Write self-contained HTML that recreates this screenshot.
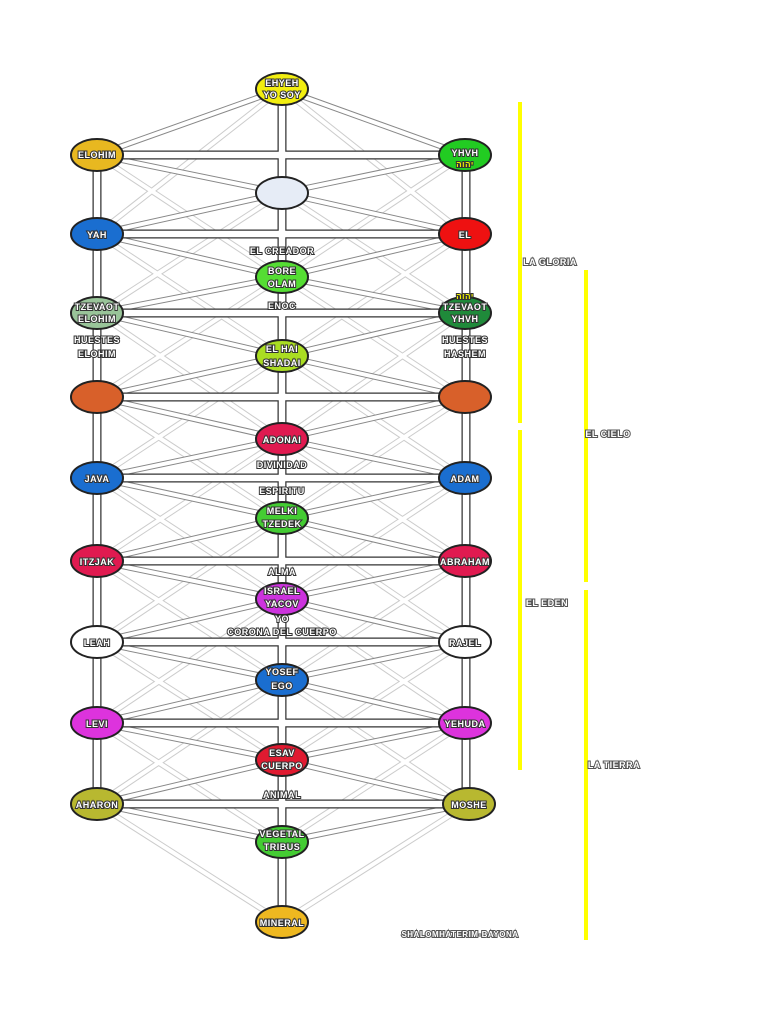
<!DOCTYPE html>
<html><head><meta charset="utf-8"><style>
html,body{margin:0;padding:0;background:#fff;width:768px;height:1024px;overflow:hidden}
svg{display:block}
text{font-family:"Liberation Sans",sans-serif;font-weight:bold;font-size:9px;fill:#fff;stroke:#333;stroke-width:2px;paint-order:stroke;text-anchor:middle;letter-spacing:0.5px}
.lbl{fill:#fff;stroke:#555}
</style></head><body>
<svg width="768" height="1024" viewBox="0 0 768 1024">
<defs>
<g id="far">
<line x1="97" y1="155" x2="282" y2="277"/><line x1="465" y1="155" x2="282" y2="277"/>
<line x1="97" y1="234" x2="282" y2="356"/><line x1="465" y1="234" x2="282" y2="356"/>
<line x1="97" y1="234" x2="282" y2="89"/><line x1="465" y1="234" x2="282" y2="89"/>
<line x1="97" y1="313" x2="282" y2="439"/><line x1="465" y1="313" x2="282" y2="439"/>
<line x1="97" y1="313" x2="282" y2="193"/><line x1="465" y1="313" x2="282" y2="193"/>
<line x1="97" y1="397" x2="282" y2="518"/><line x1="465" y1="397" x2="282" y2="518"/>
<line x1="97" y1="397" x2="282" y2="277"/><line x1="465" y1="397" x2="282" y2="277"/>
<line x1="97" y1="478" x2="282" y2="599"/><line x1="465" y1="478" x2="282" y2="599"/>
<line x1="97" y1="478" x2="282" y2="356"/><line x1="465" y1="478" x2="282" y2="356"/>
<line x1="97" y1="561" x2="282" y2="680"/><line x1="465" y1="561" x2="282" y2="680"/>
<line x1="97" y1="561" x2="282" y2="439"/><line x1="465" y1="561" x2="282" y2="439"/>
<line x1="97" y1="642" x2="282" y2="760"/><line x1="465" y1="642" x2="282" y2="760"/>
<line x1="97" y1="642" x2="282" y2="518"/><line x1="465" y1="642" x2="282" y2="518"/>
<line x1="97" y1="723" x2="282" y2="842"/><line x1="465" y1="723" x2="282" y2="842"/>
<line x1="97" y1="723" x2="282" y2="599"/><line x1="465" y1="723" x2="282" y2="599"/>
<line x1="97" y1="804" x2="282" y2="922"/><line x1="468" y1="804" x2="282" y2="922"/>
<line x1="97" y1="804" x2="282" y2="680"/><line x1="468" y1="804" x2="282" y2="680"/>
</g>
<g id="near">
<line x1="97" y1="155" x2="282" y2="89"/><line x1="465" y1="155" x2="282" y2="89"/>
<line x1="97" y1="155" x2="282" y2="193"/><line x1="465" y1="155" x2="282" y2="193"/>
<line x1="97" y1="234" x2="282" y2="193"/><line x1="465" y1="234" x2="282" y2="193"/>
<line x1="97" y1="234" x2="282" y2="277"/><line x1="465" y1="234" x2="282" y2="277"/>
<line x1="97" y1="313" x2="282" y2="277"/><line x1="465" y1="313" x2="282" y2="277"/>
<line x1="97" y1="313" x2="282" y2="356"/><line x1="465" y1="313" x2="282" y2="356"/>
<line x1="97" y1="397" x2="282" y2="356"/><line x1="465" y1="397" x2="282" y2="356"/>
<line x1="97" y1="397" x2="282" y2="439"/><line x1="465" y1="397" x2="282" y2="439"/>
<line x1="97" y1="478" x2="282" y2="439"/><line x1="465" y1="478" x2="282" y2="439"/>
<line x1="97" y1="478" x2="282" y2="518"/><line x1="465" y1="478" x2="282" y2="518"/>
<line x1="97" y1="561" x2="282" y2="518"/><line x1="465" y1="561" x2="282" y2="518"/>
<line x1="97" y1="561" x2="282" y2="599"/><line x1="465" y1="561" x2="282" y2="599"/>
<line x1="97" y1="642" x2="282" y2="599"/><line x1="465" y1="642" x2="282" y2="599"/>
<line x1="97" y1="642" x2="282" y2="680"/><line x1="465" y1="642" x2="282" y2="680"/>
<line x1="97" y1="723" x2="282" y2="680"/><line x1="465" y1="723" x2="282" y2="680"/>
<line x1="97" y1="723" x2="282" y2="760"/><line x1="465" y1="723" x2="282" y2="760"/>
<line x1="97" y1="804" x2="282" y2="760"/><line x1="468" y1="804" x2="282" y2="760"/>
<line x1="97" y1="804" x2="282" y2="842"/><line x1="468" y1="804" x2="282" y2="842"/>
</g>
<g id="main">
<line x1="282" y1="89" x2="282" y2="922"/>
<line x1="97" y1="155" x2="97" y2="804"/>
<line x1="466" y1="155" x2="466" y2="804"/>
<line x1="97" y1="155" x2="465" y2="155"/>
<line x1="97" y1="234" x2="465" y2="234"/>
<line x1="97" y1="313" x2="465" y2="313"/>
<line x1="97" y1="397" x2="465" y2="397"/>
<line x1="97" y1="478" x2="465" y2="478"/>
<line x1="97" y1="561" x2="465" y2="561"/>
<line x1="97" y1="642" x2="465" y2="642"/>
<line x1="97" y1="723" x2="465" y2="723"/>
<line x1="97" y1="804" x2="468" y2="804"/>
</g>
</defs>
<use href="#far" stroke="#ccc" stroke-width="6"/>
<use href="#far" stroke="#fff" stroke-width="4"/>
<use href="#near" stroke="#888" stroke-width="6"/>
<use href="#near" stroke="#fff" stroke-width="4"/>
<use href="#main" stroke="#333" stroke-width="9"/>
<use href="#main" stroke="#fff" stroke-width="6.5"/>
<g stroke="#ffff00" stroke-width="4">
<line x1="520" y1="102" x2="520" y2="423"/>
<line x1="520" y1="430" x2="520" y2="770"/>
<line x1="586" y1="270" x2="586" y2="582"/>
<line x1="586" y1="590" x2="586" y2="940"/>
</g>
<g stroke="#222" stroke-width="2">
<ellipse cx="282" cy="89" rx="26" ry="16" fill="#f2ee10"/>
<ellipse cx="97" cy="155" rx="26" ry="16" fill="#e8b820"/>
<ellipse cx="465" cy="155" rx="26" ry="16" fill="#22cc22"/>
<ellipse cx="282" cy="193" rx="26" ry="16" fill="#e6ecf6"/>
<ellipse cx="97" cy="234" rx="26" ry="16" fill="#1a6ed0"/>
<ellipse cx="465" cy="234" rx="26" ry="16" fill="#ee1111"/>
<ellipse cx="282" cy="277" rx="26" ry="16" fill="#55dd33"/>
<ellipse cx="97" cy="313" rx="26" ry="16" fill="#99c499"/>
<ellipse cx="465" cy="313" rx="26" ry="16" fill="#1f8a3a"/>
<ellipse cx="282" cy="356" rx="26" ry="16" fill="#aadd22"/>
<ellipse cx="97" cy="397" rx="26" ry="16" fill="#d8602a"/>
<ellipse cx="465" cy="397" rx="26" ry="16" fill="#d8602a"/>
<ellipse cx="282" cy="439" rx="26" ry="16" fill="#e01a50"/>
<ellipse cx="97" cy="478" rx="26" ry="16" fill="#1a6ed0"/>
<ellipse cx="465" cy="478" rx="26" ry="16" fill="#1a6ed0"/>
<ellipse cx="282" cy="518" rx="26" ry="16" fill="#44cc33"/>
<ellipse cx="97" cy="561" rx="26" ry="16" fill="#e01a50"/>
<ellipse cx="465" cy="561" rx="26" ry="16" fill="#e01a50"/>
<ellipse cx="282" cy="599" rx="26" ry="16" fill="#cc33dd"/>
<ellipse cx="97" cy="642" rx="26" ry="16" fill="#fff"/>
<ellipse cx="465" cy="642" rx="26" ry="16" fill="#fff"/>
<ellipse cx="282" cy="680" rx="26" ry="16" fill="#1a6ed0"/>
<ellipse cx="97" cy="723" rx="26" ry="16" fill="#dd33dd"/>
<ellipse cx="465" cy="723" rx="26" ry="16" fill="#dd33dd"/>
<ellipse cx="282" cy="760" rx="26" ry="16" fill="#e01a30"/>
<ellipse cx="97" cy="804" rx="26" ry="16" fill="#b8b830"/>
<ellipse cx="469" cy="804" rx="26" ry="16" fill="#b8b830"/>
<ellipse cx="282" cy="842" rx="26" ry="16" fill="#44cc33"/>
<ellipse cx="282" cy="922" rx="26" ry="16" fill="#eeb820"/>
</g>
<text x="282" y="86">EHYEH</text><text x="282" y="98">YO SOY</text>
<text x="97" y="158">ELOHIM</text>
<text x="465" y="156">YHVH</text><text x="465" y="167" style="fill:#ee0;font-size:8px">יהוה</text>
<text x="97" y="238">YAH</text><text x="465" y="238">EL</text>
<text x="282" y="254">EL CREADOR</text>
<text x="282" y="274">BORE</text><text x="282" y="287">OLAM</text>
<text x="282" y="309">ENOC</text>
<text x="465" y="299" style="fill:#ee0;font-size:8px">יהוה</text>
<text x="97" y="310">TZEVAOT</text><text x="97" y="322">ELOHIM</text>
<text x="465" y="310">TZEVAOT</text><text x="465" y="322">YHVH</text>
<text x="97" y="343">HUESTES</text><text x="97" y="357">ELOHIM</text>
<text x="465" y="343">HUESTES</text><text x="465" y="357">HASHEM</text>
<text x="282" y="352">EL HAI</text><text x="282" y="366">SHADAI</text>
<text x="282" y="443">ADONAI</text>
<text x="282" y="468">DIVINIDAD</text>
<text x="97" y="482">JAVA</text><text x="465" y="482">ADAM</text>
<text x="282" y="494">ESPIRITU</text>
<text x="282" y="514">MELKI</text><text x="282" y="527">TZEDEK</text>
<text x="97" y="565">ITZJAK</text><text x="465" y="565">ABRAHAM</text>
<text x="282" y="575">ALMA</text>
<text x="282" y="594">ISRAEL</text><text x="282" y="607">YACOV</text>
<text x="282" y="622">YO</text><text x="282" y="635">CORONA DEL CUERPO</text>
<text x="97" y="646">LEAH</text><text x="465" y="646">RAJEL</text>
<text x="282" y="675">YOSEF</text><text x="282" y="689">EGO</text>
<text x="97" y="727">LEVI</text><text x="465" y="727">YEHUDA</text>
<text x="282" y="756">ESAV</text><text x="282" y="769">CUERPO</text>
<text x="282" y="798">ANIMAL</text>
<text x="97" y="808">AHARON</text><text x="469" y="808">MOSHE</text>
<text x="282" y="837">VEGETAL</text><text x="282" y="850">TRIBUS</text>
<text x="282" y="926">MINERAL</text>
<text class="lbl" x="550" y="265">LA GLORIA</text>
<text class="lbl" x="608" y="437">EL CIELO</text>
<text class="lbl" x="547" y="606">EL EDEN</text>
<text class="lbl" x="614" y="768">LA TIERRA</text>
<text class="lbl" x="460" y="937" style="font-size:8px">SHALOMHATERIM-BAYONA</text>
</svg>
</body></html>
